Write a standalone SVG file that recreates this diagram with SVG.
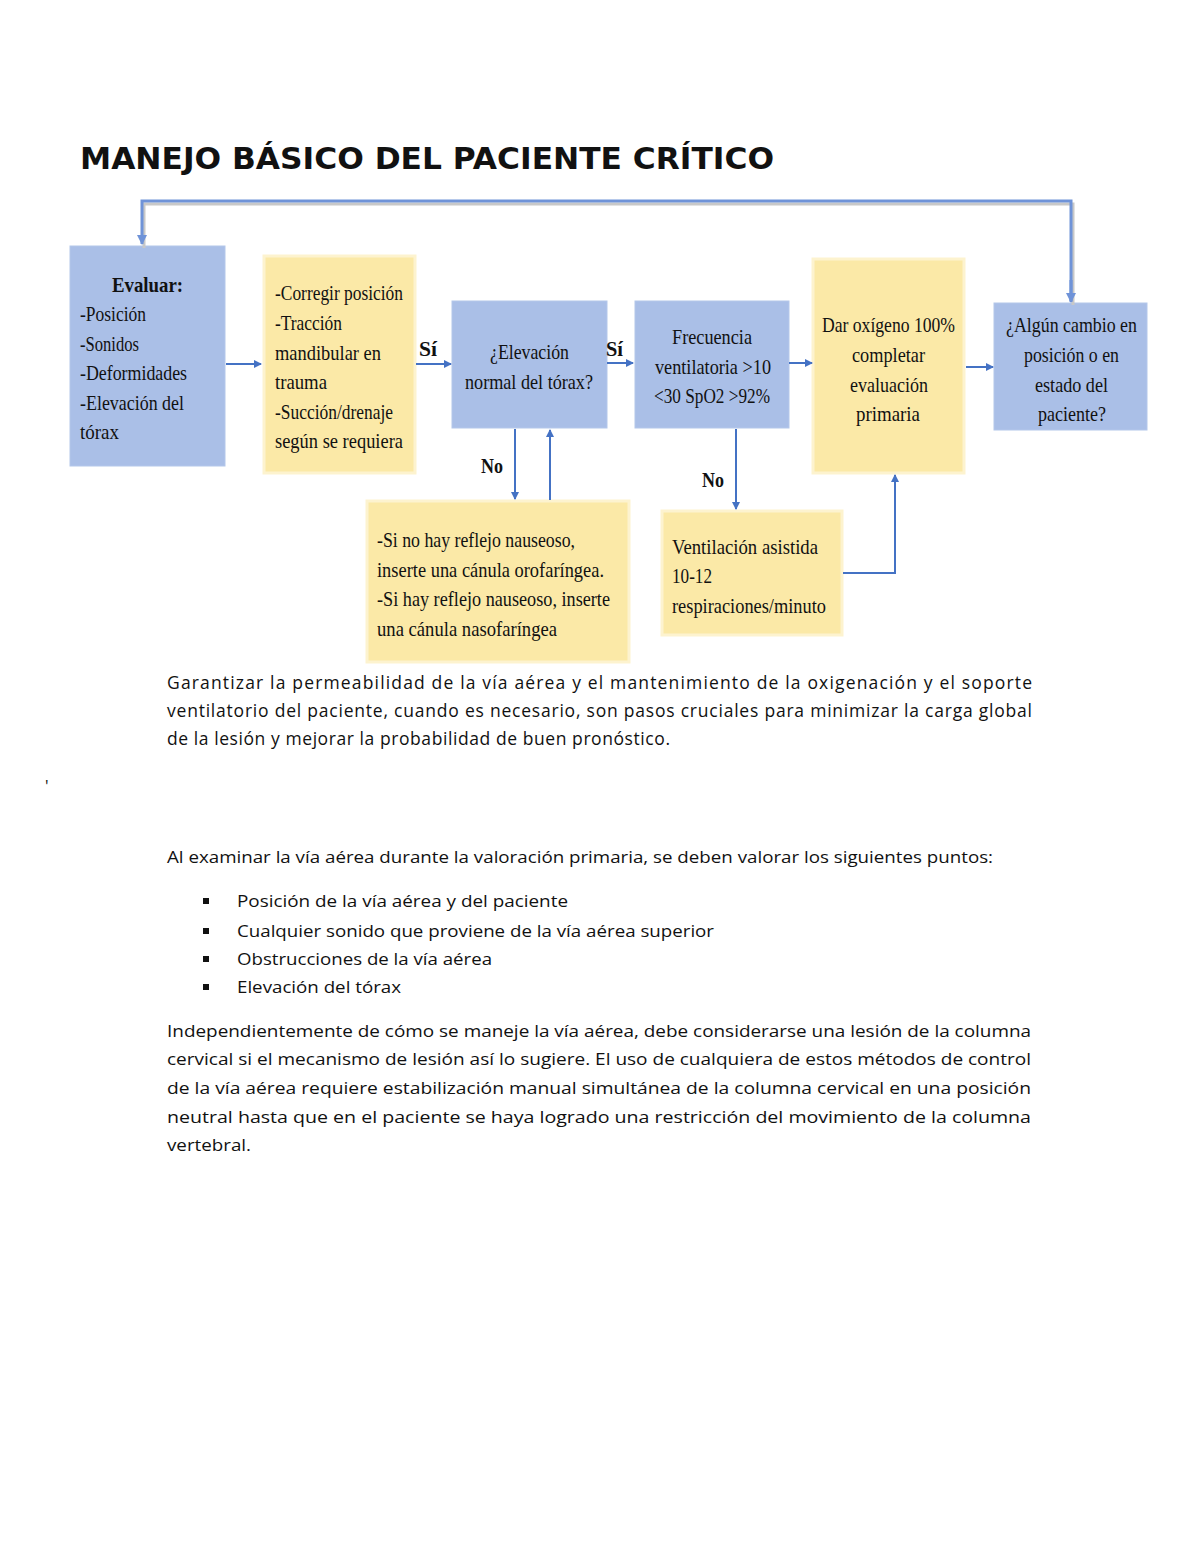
<svg xmlns="http://www.w3.org/2000/svg" width="1200" height="1553" viewBox="0 0 1200 1553">
<defs>
<marker id="ah" markerWidth="8" markerHeight="8" refX="7" refY="4" orient="auto" markerUnits="userSpaceOnUse">
<path d="M0,0 L8,4 L0,8 Z" fill="#4472c4"/>
</marker>
<marker id="ah2" markerWidth="10" markerHeight="10" refX="9" refY="5" orient="auto" markerUnits="userSpaceOnUse">
<path d="M0,0 L10,5 L0,10 Z" fill="#6f93d8"/>
</marker>
<style>
.blue{fill:#aabfe7;stroke:#b4c7ea;stroke-width:1}
.yel{fill:#fbe9a7;stroke:#fdf3cf;stroke-width:3}
.ft{font-family:"Liberation Serif","DejaVu Serif",serif;font-size:22px;fill:#111}
.lbl{font-family:"Liberation Serif","DejaVu Serif",serif;font-size:22px;font-weight:bold;fill:#111}
.con{fill:none;stroke:#4472c4;stroke-width:2}
.body{font-family:"Open Sans","Noto Sans",sans-serif;font-size:16px;fill:#111}
.body2{font-family:"Open Sans","Noto Sans",sans-serif;font-size:17.5px;fill:#111}
</style>
</defs>
<rect width="1200" height="1553" fill="#ffffff"/>

<text x="80" y="169" font-family="DejaVu Sans, sans-serif" font-weight="bold" font-size="30" textLength="694" lengthAdjust="spacingAndGlyphs" fill="#111">MANEJO BÁSICO DEL PACIENTE CRÍTICO</text>

<g id="evaluar">
<rect x="70" y="246" width="155" height="220" class="blue"/>
<text x="112" y="292" class="ft" font-weight="bold" textLength="71" lengthAdjust="spacingAndGlyphs">Evaluar:</text>
<text x="80" y="321" class="ft" textLength="66" lengthAdjust="spacingAndGlyphs">-Posición</text>
<text x="80" y="351" class="ft" textLength="59" lengthAdjust="spacingAndGlyphs">-Sonidos</text>
<text x="80" y="380" class="ft" textLength="107" lengthAdjust="spacingAndGlyphs">-Deformidades</text>
<text x="80" y="410" class="ft" textLength="104" lengthAdjust="spacingAndGlyphs">-Elevación del</text>
<text x="80" y="439" class="ft" textLength="39" lengthAdjust="spacingAndGlyphs">tórax</text>
</g>

<g id="corregir">
<rect x="264" y="256" width="151" height="217" class="yel"/>
<text x="275" y="300" class="ft" textLength="128" lengthAdjust="spacingAndGlyphs">-Corregir posición</text>
<text x="275" y="330" class="ft" textLength="67" lengthAdjust="spacingAndGlyphs">-Tracción</text>
<text x="275" y="360" class="ft" textLength="106" lengthAdjust="spacingAndGlyphs">mandibular en</text>
<text x="275" y="389" class="ft" textLength="52" lengthAdjust="spacingAndGlyphs">trauma</text>
<text x="275" y="419" class="ft" textLength="118" lengthAdjust="spacingAndGlyphs">-Succión/drenaje</text>
<text x="275" y="448" class="ft" textLength="128" lengthAdjust="spacingAndGlyphs">según se requiera</text>
</g>

<g id="elevacion">
<rect x="452" y="301" width="155" height="127" class="blue"/>
<text x="490" y="359" class="ft" textLength="79" lengthAdjust="spacingAndGlyphs">¿Elevación</text>
<text x="465" y="389" class="ft" textLength="128" lengthAdjust="spacingAndGlyphs">normal del tórax?</text>
</g>

<g id="frecuencia">
<rect x="635" y="301" width="154" height="127" class="blue"/>
<text x="672" y="344" class="ft" textLength="80" lengthAdjust="spacingAndGlyphs">Frecuencia</text>
<text x="655" y="374" class="ft" textLength="116" lengthAdjust="spacingAndGlyphs">ventilatoria &gt;10</text>
<text x="654" y="403" class="ft" textLength="116" lengthAdjust="spacingAndGlyphs">&lt;30 SpO2 &gt;92%</text>
</g>

<g id="oxigeno">
<rect x="813" y="259" width="151" height="214" class="yel"/>
<text x="822" y="332" class="ft" textLength="133" lengthAdjust="spacingAndGlyphs">Dar oxígeno 100%</text>
<text x="852" y="362" class="ft" textLength="73" lengthAdjust="spacingAndGlyphs">completar</text>
<text x="850" y="392" class="ft" textLength="78" lengthAdjust="spacingAndGlyphs">evaluación</text>
<text x="856" y="421" class="ft" textLength="64" lengthAdjust="spacingAndGlyphs">primaria</text>
</g>

<g id="cambio">
<rect x="994" y="303" width="153" height="127" class="blue"/>
<text x="1006" y="332" class="ft" textLength="131" lengthAdjust="spacingAndGlyphs">¿Algún cambio en</text>
<text x="1024" y="362" class="ft" textLength="95" lengthAdjust="spacingAndGlyphs">posición o en</text>
<text x="1035" y="392" class="ft" textLength="73" lengthAdjust="spacingAndGlyphs">estado del</text>
<text x="1038" y="421" class="ft" textLength="68" lengthAdjust="spacingAndGlyphs">paciente?</text>
</g>

<g id="canula">
<rect x="367" y="501" width="262" height="161" class="yel"/>
<text x="377" y="547" class="ft" textLength="198" lengthAdjust="spacingAndGlyphs">-Si no hay reflejo nauseoso,</text>
<text x="377" y="577" class="ft" textLength="227" lengthAdjust="spacingAndGlyphs">inserte una cánula orofaríngea.</text>
<text x="377" y="606" class="ft" textLength="233" lengthAdjust="spacingAndGlyphs">-Si hay reflejo nauseoso, inserte</text>
<text x="377" y="636" class="ft" textLength="180" lengthAdjust="spacingAndGlyphs">una cánula nasofaríngea</text>
</g>

<g id="ventilacion">
<rect x="662" y="511" width="180" height="124" class="yel"/>
<text x="672" y="554" class="ft" textLength="146" lengthAdjust="spacingAndGlyphs">Ventilación asistida</text>
<text x="672" y="583" class="ft" textLength="40" lengthAdjust="spacingAndGlyphs">10-12</text>
<text x="672" y="613" class="ft" textLength="154" lengthAdjust="spacingAndGlyphs">respiraciones/minuto</text>
</g>

<g id="connectors">
<polyline points="1073,305 1073,204 144,204 144,248" fill="none" stroke="#c8c8c8" stroke-width="3"/>
<polyline points="1071,301 1071,201 142,201 142,244" fill="none" stroke="#6f93d8" stroke-width="3" marker-end="url(#ah2)"/>
<line x1="1071" y1="280" x2="1071" y2="302" stroke="#6f93d8" stroke-width="3" marker-end="url(#ah2)"/>
<line x1="226" y1="364" x2="261" y2="364" class="con" marker-end="url(#ah)"/>
<line x1="416" y1="364" x2="451" y2="364" class="con" marker-end="url(#ah)"/>
<line x1="607" y1="363" x2="633" y2="363" class="con" marker-end="url(#ah)"/>
<line x1="789" y1="363" x2="812" y2="363" class="con" marker-end="url(#ah)"/>
<line x1="966" y1="367" x2="993" y2="367" class="con" marker-end="url(#ah)"/>
<line x1="515" y1="429" x2="515" y2="499" class="con" marker-end="url(#ah)"/>
<line x1="550" y1="500" x2="550" y2="430" class="con" marker-end="url(#ah)"/>
<line x1="736" y1="429" x2="736" y2="509" class="con" marker-end="url(#ah)"/>
<polyline points="843,573 895,573 895,475" class="con" marker-end="url(#ah)"/>
<text x="419" y="356" class="lbl" textLength="18" lengthAdjust="spacingAndGlyphs">Sí</text>
<text x="606" y="356" class="lbl" textLength="17" lengthAdjust="spacingAndGlyphs">Sí</text>
<text x="481" y="473" class="lbl" textLength="22" lengthAdjust="spacingAndGlyphs">No</text>
<text x="702" y="487" class="lbl" textLength="22" lengthAdjust="spacingAndGlyphs">No</text>
</g>

<g id="texto">
<text x="167" y="689" class="body2" textLength="865" lengthAdjust="spacing">Garantizar la permeabilidad de la vía aérea y el mantenimiento de la oxigenación y el soporte</text>
<text x="167" y="717" class="body2" textLength="865" lengthAdjust="spacing">ventilatorio del paciente, cuando es necesario, son pasos cruciales para minimizar la carga global</text>
<text x="167" y="745" class="body2" textLength="503" lengthAdjust="spacing">de la lesión y mejorar la probabilidad de buen pronóstico.</text>
<text x="45" y="792" class="body" font-size="12">'</text>
<text x="167" y="863" class="body" textLength="826" lengthAdjust="spacingAndGlyphs">Al examinar la vía aérea durante la valoración primaria, se deben valorar los siguientes puntos:</text>
<rect x="203" y="898" width="6" height="6" fill="#111"/>
<rect x="203" y="928" width="6" height="6" fill="#111"/>
<rect x="203" y="956" width="6" height="6" fill="#111"/>
<rect x="203" y="984" width="6" height="6" fill="#111"/>
<text x="237" y="907" class="body" textLength="331" lengthAdjust="spacingAndGlyphs">Posición de la vía aérea y del paciente</text>
<text x="237" y="937" class="body" textLength="477" lengthAdjust="spacingAndGlyphs">Cualquier sonido que proviene de la vía aérea superior</text>
<text x="237" y="965" class="body" textLength="255" lengthAdjust="spacingAndGlyphs">Obstrucciones de la vía aérea</text>
<text x="237" y="993" class="body" textLength="164" lengthAdjust="spacingAndGlyphs">Elevación del tórax</text>
<text x="167" y="1037" class="body" textLength="864" lengthAdjust="spacingAndGlyphs">Independientemente de cómo se maneje la vía aérea, debe considerarse una lesión de la columna</text>
<text x="167" y="1065" class="body" textLength="864" lengthAdjust="spacingAndGlyphs">cervical si el mecanismo de lesión así lo sugiere. El uso de cualquiera de estos métodos de control</text>
<text x="167" y="1094" class="body" textLength="864" lengthAdjust="spacingAndGlyphs">de la vía aérea requiere estabilización manual simultánea de la columna cervical en una posición</text>
<text x="167" y="1123" class="body" textLength="864" lengthAdjust="spacingAndGlyphs">neutral hasta que en el paciente se haya logrado una restricción del movimiento de la columna</text>
<text x="167" y="1151" class="body" textLength="84" lengthAdjust="spacingAndGlyphs">vertebral.</text>
</g>
</svg>
